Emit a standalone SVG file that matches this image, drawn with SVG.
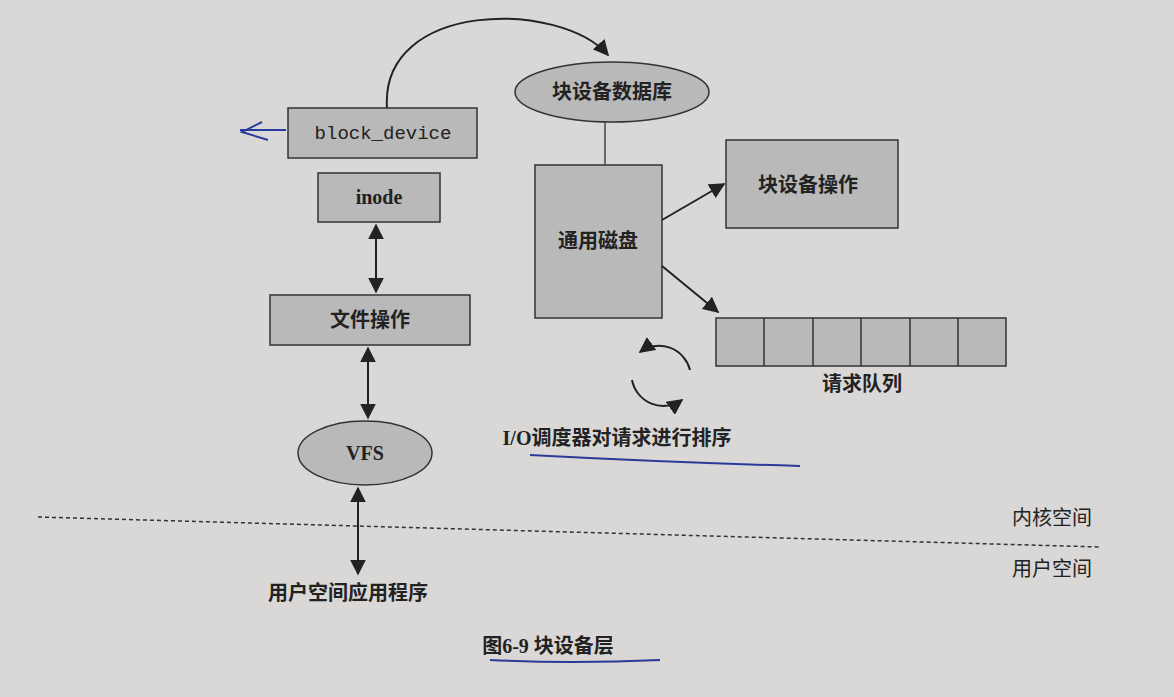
<svg xmlns="http://www.w3.org/2000/svg" width="1174" height="697" viewBox="0 0 1174 697">
<defs>
<marker id="ah" viewBox="0 0 10 10" refX="9" refY="5" markerWidth="8" markerHeight="8" orient="auto-start-reverse"><path d="M0,0 L10,5 L0,10 z" fill="#222"/></marker>
<style>
.box{fill:#b9b9b9;stroke:#333;stroke-width:1.5}
.t{font-family:"Noto Sans CJK SC","Liberation Serif",serif;font-size:20px;font-weight:bold;fill:#222;text-anchor:middle}
.m{font-family:"Liberation Mono",monospace;font-size:19px;fill:#222;text-anchor:middle}
.c{stroke:#222;stroke-width:2;fill:none}
.hw{stroke:#2a3a9a;stroke-width:2;fill:none}
</style>
</defs>
<rect width="1174" height="697" fill="#d9d8d6"/>
<g id="block_device"><rect class="box" x="288" y="108" width="189" height="50"/><text class="m" x="383" y="139">block_device</text></g>
<g id="inode"><rect class="box" x="318" y="173" width="122" height="49"/><text class="t" x="379" y="204" style="font-family:'Liberation Serif',serif">inode</text></g>
<g id="fileops"><rect class="box" x="270" y="295" width="200" height="50"/><text class="t" x="370" y="327">文件操作</text></g>
<g id="vfs"><ellipse class="box" cx="365" cy="453" rx="67" ry="32"/><text class="t" x="365" y="460" style="font-family:'Liberation Serif',serif">VFS</text></g>
<g id="bdb"><ellipse class="box" cx="612" cy="92" rx="97" ry="30"/><text class="t" x="612" y="99">块设备数据库</text></g>
<g id="gendisk"><rect class="box" x="535" y="165" width="127" height="153"/><text class="t" x="598" y="248">通用磁盘</text></g>
<g id="bdops"><rect class="box" x="726" y="140" width="172" height="88"/><text class="t" x="808" y="192">块设备操作</text></g>
<g id="queue">
<rect class="box" x="716" y="318" width="290" height="48"/>
<path d="M764,318v48M813,318v48M861,318v48M910,318v48M958,318v48" stroke="#333" stroke-width="1.5"/>
<text class="t" x="862" y="391">请求队列</text></g>
<g id="sched">
<path class="c" d="M690,370 A32,32 0 0 0 640,352" marker-end="url(#ah)"/>
<path class="c" d="M632,380 A32,32 0 0 0 682,400" marker-end="url(#ah)"/>
<text class="t" x="617" y="445" style="font-family:'Liberation Serif','Noto Sans CJK SC',serif">I/O调度器对请求进行排序</text></g>
<g id="connectors">
<path class="c" d="M387,108 C380,0 560,0 608,55" marker-end="url(#ah)"/>
<line x1="605" y1="122" x2="605" y2="165" stroke="#444" stroke-width="1.5"/>
<line class="c" x1="662" y1="220" x2="724" y2="184" marker-end="url(#ah)"/>
<line class="c" x1="662" y1="266" x2="718" y2="312" marker-end="url(#ah)"/>
<line class="c" x1="376" y1="225" x2="376" y2="292" marker-start="url(#ah)" marker-end="url(#ah)"/>
<line class="c" x1="368" y1="348" x2="368" y2="418" marker-start="url(#ah)" marker-end="url(#ah)"/>
<line class="c" x1="358" y1="488" x2="358" y2="574" marker-start="url(#ah)" marker-end="url(#ah)"/>
</g>
<line x1="38" y1="517" x2="1100" y2="547" stroke="#333" stroke-width="1.5" stroke-dasharray="4,3"/>
<text class="t" x="1052" y="525" style="font-weight:normal">内核空间</text>
<text class="t" x="1052" y="576" style="font-weight:normal">用户空间</text>
<text class="t" x="348" y="600">用户空间应用程序</text>
<text class="t" x="548" y="653" style="font-family:'Liberation Serif','Noto Sans CJK SC',serif">图6-9  块设备层</text>
<path class="hw" d="M530,455 Q660,462 800,466"/>
<path class="hw" d="M490,660 Q570,664 660,660"/>
<path class="hw" d="M286,130 L240,130 M262,122 L242,132 L268,140"/>
</svg>
